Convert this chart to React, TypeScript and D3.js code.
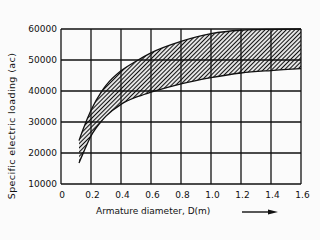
import React, { useRef, useEffect } from "react";
import * as d3 from "d3";

// Armature diameter D (m) and the upper / lower limits of the band
const diameters: number[] = [0.12, 0.15, 0.2, 0.27, 0.3, 0.4, 0.5, 0.6, 0.8, 1.0, 1.2, 1.4, 1.6];
const upperLimit: number[] = [24000, 28000, 33800, 39800, 41800, 46500, 49600, 52300, 56000, 58500, 59600, 59900, 60000];
const lowerLimit: number[] = [16800, 20200, 25500, 30300, 31900, 35700, 38000, 39600, 42300, 44300, 45800, 46600, 47200];

const xTicks: number[] = [0, 0.2, 0.4, 0.6, 0.8, 1.0, 1.2, 1.4, 1.6];
const yTicks: number[] = [10000, 20000, 30000, 40000, 50000, 60000];

const xTitle = "Armature diameter, D(m)";
const yTitle = "Specific electric loading (ac)";

interface BandPoint {
  d: number;
  hi: number;
  lo: number;
}

const App: React.FC = () => {
  const svgRef = useRef<SVGSVGElement | null>(null);

  useEffect(() => {
    const width = 320;
    const height = 240;
    const font = "'DejaVu Sans', sans-serif";
    const ink = "#111";

    const band: BandPoint[] = diameters.map((d, i) => ({
      d,
      hi: upperLimit[i],
      lo: lowerLimit[i],
    }));

    const root = d3.select(svgRef.current);
    root.selectAll("*").remove();
    root.attr("width", width).attr("height", height);

    // hatch pattern (line kept inside the tile so it is not clipped)
    const pattern = root
      .append("defs")
      .append("pattern")
      .attr("id", "hatch")
      .attr("patternUnits", "userSpaceOnUse")
      .attr("width", 3)
      .attr("height", 3)
      .attr("patternTransform", "rotate(45)");
    pattern
      .append("line")
      .attr("x1", 1.5)
      .attr("y1", 0)
      .attr("x2", 1.5)
      .attr("y2", 3)
      .attr("stroke", ink)
      .attr("stroke-width", 1.2);

    const svg = root.append("g");

    svg
      .append("rect")
      .attr("width", width)
      .attr("height", height)
      .attr("fill", "#fbfbfb");

    const x = d3.scaleLinear().domain([0, 1.6]).range([61, 301]);
    const y = d3.scaleLinear().domain([10000, 60000]).range([184, 29]);

    // band
    const area = d3
      .area<BandPoint>()
      .x((p) => x(p.d))
      .y0((p) => y(p.lo))
      .y1((p) => y(p.hi))
      .curve(d3.curveMonotoneX);

    svg.append("path").datum(band).attr("fill", "url(#hatch)").attr("d", area);

    const limitLine = (key: "hi" | "lo") =>
      d3
        .line<BandPoint>()
        .x((p) => x(p.d))
        .y((p) => y(p[key]))
        .curve(d3.curveMonotoneX);

    (["hi", "lo"] as const).forEach((key) => {
      svg
        .append("path")
        .datum(band)
        .attr("fill", "none")
        .attr("stroke", ink)
        .attr("stroke-width", 1.3)
        .attr("d", limitLine(key));
    });

    // grid
    svg
      .selectAll(".vgrid")
      .data(xTicks)
      .join("line")
      .attr("x1", (d) => x(d))
      .attr("x2", (d) => x(d))
      .attr("y1", y(60000))
      .attr("y2", y(10000))
      .attr("stroke", ink)
      .attr("stroke-width", 1.3);

    svg
      .selectAll(".hgrid")
      .data(yTicks)
      .join("line")
      .attr("x1", x(0))
      .attr("x2", x(1.6))
      .attr("y1", (d) => y(d))
      .attr("y2", (d) => y(d))
      .attr("stroke", ink)
      .attr("stroke-width", 1.3);

    // tick labels
    svg
      .selectAll(".ylab")
      .data(yTicks)
      .join("text")
      .attr("x", 57)
      .attr("y", (d) => y(d))
      .attr("dy", "0.36em")
      .attr("text-anchor", "end")
      .style("font-family", font)
      .style("font-size", "9px")
      .style("fill", ink)
      .text((d) => d3.format("d")(d));

    svg
      .selectAll(".xlab")
      .data(xTicks)
      .join("text")
      .attr("x", (d) => x(d) + (d === 0 ? 1 : 1.5))
      .attr("y", 197.5)
      .attr("text-anchor", "middle")
      .style("font-family", font)
      .style("font-size", "9px")
      .style("fill", ink)
      .text((d) => (d === 0 ? "0" : d3.format(".1f")(d)));

    // axis titles
    svg
      .append("text")
      .attr("x", 96)
      .attr("y", 214)
      .style("font-family", font)
      .style("font-size", "9px")
      .style("fill", ink)
      .text(xTitle);

    svg
      .append("text")
      .attr("transform", `translate(15,126) rotate(-90)`)
      .attr("text-anchor", "middle")
      .style("font-family", font)
      .style("font-size", "9.5px")
      .style("letter-spacing", "0.4px")
      .style("fill", ink)
      .text(yTitle);

    // arrow
    svg
      .append("line")
      .attr("x1", 242)
      .attr("x2", 270)
      .attr("y1", 212)
      .attr("y2", 212)
      .attr("stroke", ink)
      .attr("stroke-width", 1.4);
    svg
      .append("path")
      .attr("d", "M268,209.5 L278,212 L268,214.5 Z")
      .attr("fill", ink);
  }, []);

  return (
    <div style={{ position: "fixed", left: 0, top: 0 }}>
      <svg ref={svgRef} style={{ display: "block" }}></svg>
    </div>
  );
};

export default App;
